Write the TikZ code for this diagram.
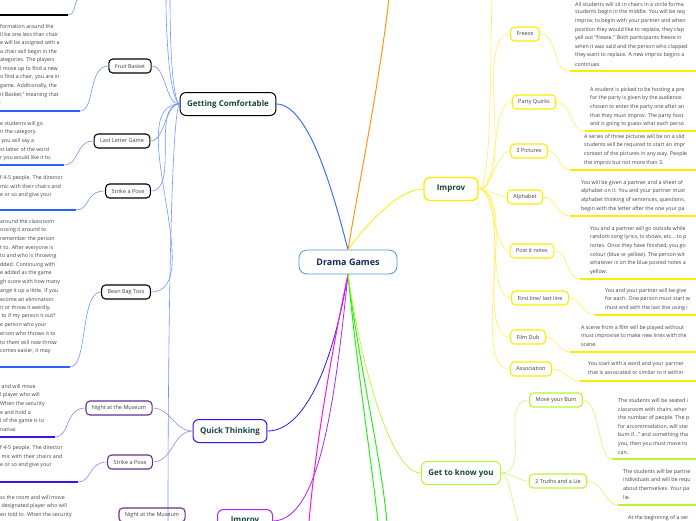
\documentclass[tikz,border=0pt]{standalone}
\usepackage{fontspec}
\setmainfont{Open Sans}
\begin{document}
\begin{tikzpicture}[x=1pt,y=-1pt,
  txt/.style={anchor=west,inner sep=0pt,font=\fontsize{5.3}{8.6}\selectfont,text=black!75,align=left},
  sub/.style={draw,rounded corners=4pt,line width=1.1pt,minimum height=14pt,inner xsep=6pt,font=\fontsize{5.5}{6}\selectfont,text=black!75},
  main/.style={draw,rounded corners=6pt,line width=1pt,minimum height=23pt,inner xsep=7pt,font=\fontsize{8}{9}\bfseries\selectfont,text={rgb,255:red,20;green,70;blue,60}},
  ul/.style={line width=1.4pt},
  cn/.style={line width=0.6pt}]
\definecolor{gcb}{RGB}{40,100,255}
\definecolor{gcl}{RGB}{110,150,255}
\definecolor{qtb}{RGB}{50,20,240}
\definecolor{qtl}{RGB}{150,130,255}
\definecolor{qtc}{RGB}{100,50,140}
\definecolor{imy}{RGB}{255,235,0}
\definecolor{imyl}{RGB}{255,240,90}
\definecolor{gkb}{RGB}{185,245,50}
\definecolor{gkl}{RGB}{205,250,120}
\definecolor{orng}{RGB}{255,150,20}
\definecolor{mag}{RGB}{255,20,230}
\definecolor{grn}{RGB}{40,240,20}
\definecolor{purp}{RGB}{170,40,240}
\useasboundingbox (0,0) rectangle (696,520);
\clip (0,0) rectangle (696,520);
% root
\node[draw={rgb,255:red,80;green,150;blue,210},rounded corners=8pt,line width=0.8pt,minimum width=98pt,minimum height=24pt,font=\fontsize{9}{10}\bfseries\selectfont,text={rgb,255:red,20;green,40;blue,90}] (root) at (348,262) {Drama Games};
% main branches
\node[main,draw=black] (gc) at (228,104) {Getting Comfortable};
\node[main,draw=qtb] (qt) at (230,431) {Quick Thinking};
\node[main,draw=purp,minimum width=55pt] (ip) at (245,521) {Improv};
\node[main,draw=imy,line width=1.4pt,minimum width=54pt] (im) at (451,189) {Improv};
\node[main,draw=gkb,minimum width=73pt] (gk) at (461,473) {Get to know you};
\coordinate (ortop) at (389,-2);
\coordinate (magb) at (309,522);
\coordinate (gr1) at (378,522);
\coordinate (gr2) at (387,522);
\draw[orng,line width=1pt] (root.north) .. controls (356,200) and (380,80) .. (ortop);
\draw[gcb,line width=0.9pt] (root.north) .. controls (335,200) and (310,104) .. (gc.east);
\draw[imy,line width=0.8pt] (root.north) .. controls (370,220) and (400,189) .. (im.west);
\draw[qtb,line width=0.8pt] (root.south) .. controls (330,380) and (300,431) .. (qt.east);
\draw[purp,line width=0.8pt] (root.south) .. controls (335,400) and (320,520) .. (ip.east);
\draw[mag,line width=1pt] (root.south) .. controls (330,360) and (315,450) .. (magb);
\draw[grn,line width=1pt] (root.south) .. controls (356,360) and (370,450) .. (gr1);
\draw[grn,line width=1pt] (root.south) .. controls (358,360) and (380,450) .. (gr2);
\draw[gkb,line width=0.7pt] (root.south) .. controls (360,360) and (390,473) .. (gk.west);
% Getting comfortable children
\node[sub,draw=black] (fb) at (130,66) {Fruit Basket};
\node[sub,draw=black] (ll) at (122,141) {Last Letter Game};
\node[sub,draw=black] (sp) at (128,191) {Strike a Pose};
\node[sub,draw=black] (bb) at (126,292) {Bean Bag Toss};
\coordinate (gcu) at (166,-2);\coordinate (gcu2) at (170,-2);\coordinate (gcd) at (168,522);
\foreach \c in {fb,ll,sp,bb}{\draw[gcl,cn] (gc.west) to[out=180,in=0,looseness=0.8] (\c.east);}
\draw[gcl,cn] (gc.west) .. controls (170,100) and (166,40) .. (gcu);
\draw[gcl,cn] (gc.west) .. controls (172,100) and (170,40) .. (gcu2);
\draw[gcl,cn] (gc.west) .. controls (172,110) and (168,300) .. (gcd);
\coordinate (u0) at (68,15);\coordinate (u1) at (80,111);\coordinate (u2) at (64,165);\coordinate (u3) at (76,210);\coordinate (u4) at (70,367);
\draw[black,ul] (0,15) -- (u0);
\draw[gcl,cn] (u0) .. controls (76,15) and (74,0) .. (79,-2);
\draw[gcb,ul] (0,111) -- (u1); \draw[gcl,cn] (u1) .. controls (95,111) and (88,66) .. (fb.west);
\draw[gcb,ul] (0,165) -- (u2); \draw[gcl,cn] (u2) .. controls (80,165) and (75,141) .. (ll.west);
\draw[gcb,ul] (0,210) -- (u3); \draw[gcl,cn] (u3) .. controls (90,210) and (85,191) .. (sp.west);
\draw[gcb,ul] (0,367) -- (u4); \draw[gcl,cn] (u4) .. controls (88,367) and (80,292) .. (bb.west);
\node[txt] (tfb) at (0,26) {formation around the};
\node[txt] at (0,34.6) {ll be one less than chair};
\node[txt] at (0,43.2) {e will be assigned with a};
\node[txt] at (0,51.8) {a chair will begin in the};
\node[txt] at (0,60.4) {ategories. The players};
\node[txt] at (0,69) {l move up to find a new};
\node[txt] at (0,77.6) {o find a chair, you are in};
\node[txt] at (0,86.2) {game. Additionally, the};
\node[txt] at (0,94.8) {it Basket,'' meaning that};
\node[txt] at (0,103.4) {.};
\node[txt] at (0,124) {e students will go};
\node[txt] at (0,132.6) {n the category.};
\node[txt] at (0,141.2) {\ you will say a};
\node[txt] at (0,149.8) {st latter of the word};
\node[txt] at (0,158.4) {r you would like it to.};
\node[txt] at (0,178) {f 4-5 people. The director};
\node[txt] at (0,186.6) {mic with their chairs and};
\node[txt] at (0,195.2) {e or so and give your};
\foreach \t [count=\i from 0] in {around the classroom,ossing it around to,remember the person,t to. After everyone is,to and who is throwing,dded. Continuing with,e added as the game,gh score with how many,ange it up a little. If you,ecome an elimination,{it or throw it weirdly,},\ to if my person it out?,e person who your,erson who throws it to,to them will now throw,{comes easier, it may}}
  {\node[txt] at (0,222+8.6*\i) {\t};}
% Quick thinking children
\node[sub,draw=qtc] (nm) at (119,408) {Night at the Museum};
\node[sub,draw=qtc] (sp2) at (130,462) {Strike a Pose};
\node[sub,draw=qtc] (nm2) at (152,515) {Night at the Museum};
\foreach \c in {nm,sp2}{\draw[qtl,cn] (qt.west) to[out=180,in=0] (\c.east);}
\coordinate (q1) at (55,437);\coordinate (q2) at (78,482);
\draw[qtb,ul] (0,437) -- (q1); \draw[qtl,cn] (q1) .. controls (70,437) and (65,408) .. (nm.west);
\draw[qtb,ul] (0,482) -- (q2); \draw[qtl,cn] (q2) .. controls (92,482) and (88,462) .. (sp2.west);
\foreach \t [count=\i from 0] in {\ and will move,l player who will,When the security,e and hold a,l of the game is to,native.}
  {\node[txt] at (0,387+8.6*\i) {\t};}
\foreach \t [count=\i from 0] in {f 4-5 people. The director,\ mic with their chairs and,e or so and give your}
  {\node[txt] at (0,448+8.6*\i) {\t};}
\foreach \t [count=\i from 0] in {ss the room and will move,\ designated player who will,en told to. When the security}
  {\node[txt] at (0,498+8.6*\i) {\t};}
% Improv children
\node[sub,draw=imy] (fz) at (525,34) {Freeze};
\node[sub,draw=imy] (pq) at (534,102) {Party Quirks};
\node[sub,draw=imy] (p3) at (529,151) {3 Pictures};
\node[sub,draw=imy] (ab) at (525,197) {Alphabet};
\node[sub,draw=imy] (pn) at (532,251) {Post it notes};
\node[sub,draw=imy] (fl) at (540,298) {First line/ last line};
\node[sub,draw=imy] (fd) at (528,337) {Film Dub};
\node[sub,draw=imy] (as) at (531,369) {Association};
\foreach \c in {fz,pq,p3,ab,pn,fl,fd,as}{\draw[imyl,cn] (im.east) to[out=0,in=180,looseness=0.6] (\c.west);}
\coordinate (iu) at (492,-2);
\draw[imyl,cn] (im.east) .. controls (492,189) and (490,60) .. (iu);
\foreach \c/\y/\x in {fz/71/570,pq/131/585,p3/170/570,ab/216/570,pn/279/580,fl/315/595,fd/352/570,as/381/580}{
  \coordinate (e\c) at (\x,\y);
  \draw[imy,ul] (e\c) -- (697,\y);
  \draw[imyl,cn] (\c.east) to[out=0,in=180] (e\c);}
\foreach \t [count=\i from 0] in {All students will sit in chairs in a circle forma,students begin in the middle. You will be req,{improv, to begin with your partner and when},{position they would like to replace, they clap},yell out ``freeze.'' Both participants freeze in,when it was said and the person who clapped,they want to replace. A new improv begins a,continues.}
  {\node[txt] at (575,4+8.6*\i) {\t};}
\foreach \t [count=\i from 0] in {A student is picked to be hosting a pre,for the party is given by the audience.,chosen to enter the party one after an,that they must improv. The party host,and is going to guess what each perso}
  {\node[txt] at (590,90+8.6*\i) {\t};}
\foreach \t [count=\i from 0] in {A series of three pictures will be on a slid,students will be required to start an impr,context of the pictures in any way. People,the improv but not more than 3.}
  {\node[txt] at (584,137+8.6*\i) {\t};}
\foreach \t [count=\i from 0] in {You will be given a partner and a sheet of,alphabet on it. You and your partner must,{alphabet thinking of sentences, questions,},begin with the letter after the one your pa}
  {\node[txt] at (581,183+8.6*\i) {\t};}
\foreach \t [count=\i from 0] in {You and a partner will go outside while,{random song lyrics, tv shows, etc\ldots{} to p},{notes. Once they have finished, you go},colour (blue or yellow). The person wit,whatever is on the blue posted notes a,yellow.}
  {\node[txt] at (590,229+8.6*\i) {\t};}
\foreach \t [count=\i from 0] in {You and your partner will be give,for each. One person must start w,must end with the last line using i}
  {\node[txt] at (605,291+8.6*\i) {\t};}
\foreach \t [count=\i from 0] in {A scene from a film will be played without,must improvise to make new lines with the,scene.}
  {\node[txt] at (581,328+8.6*\i) {\t};}
\foreach \t [count=\i from 0] in {You start with a word and your partner,that is associated or similar to it within}
  {\node[txt] at (588,364+8.6*\i) {\t};}
% Get to know you children
\node[sub,draw=gkb] (mb) at (556,400) {Move your Bum};
\node[sub,draw=gkb] (tl) at (558,481) {2 Truths and a Lie};
\coordinate (gkd) at (518,522);
\foreach \c in {mb,tl}{\draw[gkl,cn] (gk.east) to[out=0,in=180] (\c.west);}
\draw[gkl,cn] (gk.east) .. controls (508,473) and (512,500) .. (gkd);
\coordinate (g1) at (612,459);\coordinate (g2) at (618,505);
\draw[gkb,ul] (g1) -- (697,459); \draw[gkl,cn] (mb.east) .. controls (600,400) and (598,459) .. (g1);
\draw[gkb,ul] (g2) -- (697,505); \draw[gkl,cn] (tl.east) .. controls (603,481) and (605,505) .. (g2);
\foreach \t [count=\i from 0] in {The students will be seated i,{classroom with chairs, wher},the number of people. The p,{for accommodation, will star},bum if\ldots'' and something tha,{you, then you must move to},can.}
  {\node[txt] at (618,401+8.6*\i) {\t};}
\foreach \t [count=\i from 0] in {The students will be partne,individuals and will be requ,about themselves. Your pa,lie.}
  {\node[txt] at (623,472+8.6*\i) {\t};}
\node[txt] at (628,518) {At the beginning of a ver};
\end{tikzpicture}
\end{document}
